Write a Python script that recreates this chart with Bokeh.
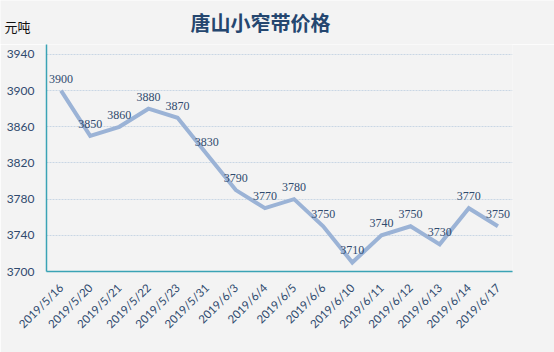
from bokeh.plotting import figure
from bokeh.models import ColumnDataSource, Range1d, FixedTicker, LabelSet
from bokeh.layouts import column
from bokeh.core.properties import value
from bokeh.embed import file_html
from bokeh.resources import INLINE
import math

dates = ["2019/5/16", "2019/5/20", "2019/5/21", "2019/5/22", "2019/5/23", "2019/5/31",
         "2019/6/3", "2019/6/4", "2019/6/5", "2019/6/6", "2019/6/10", "2019/6/11",
         "2019/6/12", "2019/6/13", "2019/6/14", "2019/6/17"]
prices = [3900, 3850, 3860, 3880, 3870, 3830, 3790, 3770, 3780, 3750, 3710, 3740,
          3750, 3730, 3770, 3750]
y_ticks = [3700, 3740, 3780, 3820, 3860, 3900, 3940]
title_text = "唐山小窄带价格"
unit_text = "元吨"

bg = "#f3f3f3"
W = 554
TOP_H = 44
H = 352

# ---- header strip with title and unit text ----
head = figure(width=W, height=TOP_H, x_range=Range1d(0, W), y_range=Range1d(TOP_H, 0),
              output_backend="svg", toolbar_location=None,
              min_border=0, background_fill_color=bg, border_fill_color=bg,
              outline_line_color=None)
head.axis.visible = False
head.grid.visible = False
head.text(x=[260], y=[22], text=[title_text], text_align="center", text_baseline="middle",
          text_font=value("Noto Sans CJK SC"), text_font_style="bold",
          text_font_size="20px", text_color="#24466f")
head.text(x=[4], y=[26], text=[unit_text], text_align="left", text_baseline="middle",
          text_font=value("Noto Sans CJK SC"), text_font_size="13px",
          text_color="#111111")

# ---- main chart ----
src = ColumnDataSource(dict(x=dates, y=prices, lbl=[str(v) for v in prices]))

p = figure(width=W, height=H - TOP_H, x_range=dates, y_range=Range1d(3700, 3951),
           output_backend="svg", toolbar_location=None,
           min_border_left=46, min_border_right=42, min_border_top=0, min_border_bottom=81,
           background_fill_color=bg, border_fill_color=bg, outline_line_color=None)
p.x_range.range_padding = 0

for fig in (head, p):
    if "frame_align" in fig.properties():
        fig.frame_align = False

p.line("x", "y", source=src, line_color="#9bb3d6", line_width=4, line_join="miter")

labels = LabelSet(x="x", y="y", text="lbl", source=src, text_align="center",
                  text_baseline="bottom", y_offset=8, text_font_size="12px",
                  text_font="Lato", text_color="#2f4a6e")
p.add_layout(labels)

p.yaxis.ticker = FixedTicker(ticks=y_ticks)
p.ygrid.ticker = FixedTicker(ticks=y_ticks)
p.ygrid.grid_line_color = "#c9d6e4"
p.ygrid.grid_line_dash = "2 1"
p.xgrid.grid_line_color = None

for ax in (p.xaxis, p.yaxis):
    ax.axis_line_color = "#3aa3b5"
    ax.axis_line_width = 1.5
    ax.minor_tick_line_color = None
    ax.major_label_text_font = "Lato"
    ax.major_label_text_color = "#2f4a6e"

p.yaxis.major_label_text_font_size = "12px"
p.xaxis.major_label_text_font_size = "11.5px"
p.yaxis.major_tick_line_color = None
p.yaxis.major_label_standoff = 6
p.xaxis.major_tick_line_color = None
p.xaxis.major_label_orientation = math.pi / 4
p.xaxis.major_label_standoff = 8

# category boundary ticks below the x axis (Excel style)
p.segment(x0=[(d, -0.5) for d in dates] + [(dates[-1], 0.5)],
          x1=[(d, -0.5) for d in dates] + [(dates[-1], 0.5)],
          y0=3700, y1=3700 - 6, line_color="#3aa3b5", line_width=1.5)

layout = column(head, p, spacing=0)
open("out.html", "w").write(file_html(layout, INLINE))
